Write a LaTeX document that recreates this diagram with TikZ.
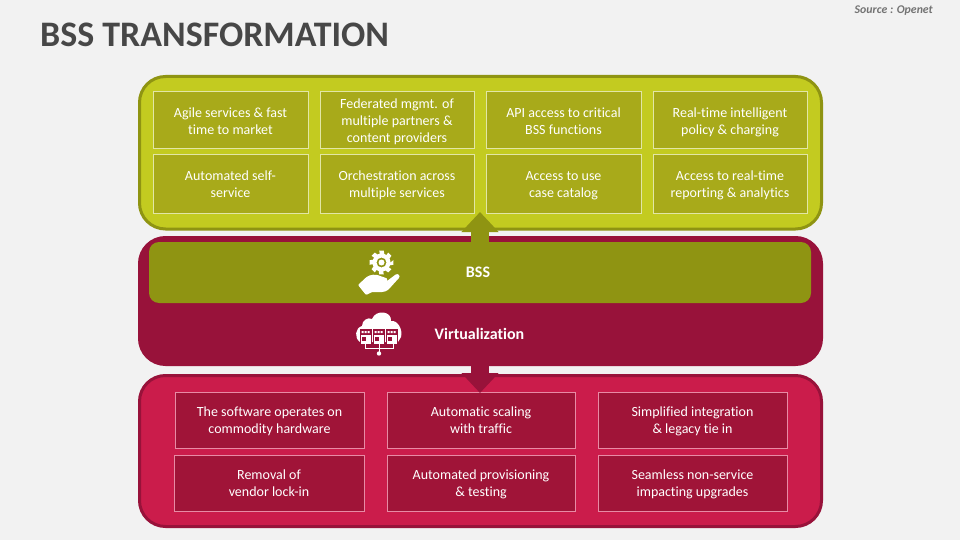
\documentclass[tikz,border=0pt]{standalone}
\usepackage{fontspec}
\setmainfont[Ligatures=NoCommon]{Carlito}
\usetikzlibrary{arrows.meta}
\definecolor{bg}{HTML}{F2F2F2}
\definecolor{olive}{HTML}{8F9412}
\definecolor{lime}{HTML}{C3CB20}
\definecolor{limecell}{HTML}{A8AA1A}
\definecolor{limeline}{HTML}{E2E6A6}
\definecolor{wine}{HTML}{98123A}
\definecolor{crimson}{HTML}{CB1C4B}
\definecolor{winecell}{HTML}{A01438}
\definecolor{wineline}{HTML}{E88BA5}
\tikzset{
 x=1pt,y=-1pt,
 panel/.style={line width=3pt,rounded corners=26pt},
 limecellbox/.style={draw=limeline,fill=limecell,line width=1pt,text=white,align=center,inner sep=0pt,anchor=center,font=\fontsize{14}{17}\selectfont},
 winecellbox/.style={draw=wineline,fill=winecell,line width=1pt,text=white,align=center,inner sep=0pt,anchor=center,font=\fontsize{14}{17}\selectfont},
 fatarrow/.style={line width=18pt,-{Triangle[width=36pt,length=20pt]}},
 barlabel/.style={text=white,font=\bfseries\fontsize{16}{18}\selectfont,inner sep=0pt},
}
\newcommand{\topstrut}{\rule{0pt}{15.3pt}}
\newcommand{\cellbox}[8]{\node[#1,minimum width=#4-#3,minimum height=#6-#5] (#2) at ({(#3+#4)/2},{(#5+#6)/2}) {\topstrut #7\\\strut #8};}
\begin{document}
\begin{tikzpicture}
\useasboundingbox (0,0) rectangle (960,540);
\fill[bg] (0,0) rectangle (960,540);
\node[anchor=west,inner sep=0pt,text=black!72,font=\bfseries\fontsize{35.9}{40}\selectfont] (title) at (40,35) {BSS TRANSFORMATION};
\node[anchor=east,inner sep=0pt,text=black!55,font=\bfseries\itshape\fontsize{11.8}{13}\selectfont] (source) at (933,11) {Source : Openet};
% middle panel
\draw[panel,draw=wine,fill=wine] (139.5,237.5) rectangle (821.5,364.5);
\node[fill=olive,rounded corners=10pt,minimum width=662pt,minimum height=61pt,inner sep=0pt] (bssbar) at (480,272.5) {};
% top panel
\draw[panel,draw=olive,fill=lime] (139.5,76.5) rectangle (821.5,229);
\cellbox{limecellbox}{a1}{153}{308}{92}{149}{Agile services \& fast}{time to market}
\node[limecellbox,minimum width=154pt,minimum height=57pt] (a2) at (397,120.5) {\topstrut Federated mgmt. of\\multiple partners \&\\\strut content providers};
\cellbox{limecellbox}{a3}{486}{641}{92}{149}{API access to critical}{BSS functions}
\cellbox{limecellbox}{a4}{653}{807}{92}{149}{Real-time intelligent}{policy \& charging}
\cellbox{limecellbox}{b1}{153}{308}{155}{213}{Automated self-}{service}
\cellbox{limecellbox}{b2}{320}{474}{155}{213}{Orchestration across}{multiple services}
\cellbox{limecellbox}{b3}{486}{641}{155}{213}{Access to use}{case catalog}
\cellbox{limecellbox}{b4}{653}{807}{155}{213}{Access to real-time}{reporting \& analytics}
% bottom panel
\draw[panel,draw=wine,fill=crimson] (139.5,375.5) rectangle (821.5,526.5);
\cellbox{winecellbox}{c1}{175}{364}{392}{448}{The software operates on}{commodity hardware}
\cellbox{winecellbox}{c2}{387}{575}{392}{448}{Automatic scaling}{with traffic}
\cellbox{winecellbox}{c3}{598}{787}{392}{448}{Simplified integration}{\& legacy tie in}
\cellbox{winecellbox}{d1}{174}{364}{455}{511}{Removal of}{vendor lock-in}
\cellbox{winecellbox}{d2}{387}{575}{455}{511}{Automated provisioning}{\& testing}
\cellbox{winecellbox}{d3}{598}{787}{455}{511}{Seamless non-service}{impacting upgrades}
% arrows
\coordinate (upstart) at (480,255);
\coordinate (uptip) at (480,212);
\coordinate (downstart) at (480,352);
\coordinate (downtip) at (480,393);
\draw[fatarrow,olive] (upstart) -- (uptip);
\draw[fatarrow,wine] (downstart) -- (downtip);
\node[barlabel] (bss) at (478,272) {BSS};
\node[barlabel] (virt) at (479.5,334) {Virtualization};
% gear icon
\begin{scope}[shift={(381.5,262.5)}]
\fill[white,even odd rule] (0:9)
 \foreach \a in {0,45,...,315} { -- (\a-11:12) -- (\a+11:12) -- (\a+18:9) -- (\a+34:9)} -- cycle
 (0,0) circle (5);
\fill[white] (0,0) circle (3);
\end{scope}
% hand icon
\fill[white,rounded corners=1pt] (358,285) -- (366,277.5) .. controls (370,274.5) and (376,274) .. (380,276) -- (386,278) .. controls (388,279) and (387,282) .. (385,282) -- (378,282) -- (385,282.5) -- (395,275) .. controls (398,273) and (401,276) .. (398,279) -- (389,289) .. controls (387,291) and (384,292) .. (381,292) -- (372,292) -- (366,295) -- cycle;
% cloud servers icon
\fill[white] (360,342) .. controls (354,338) and (355,328) .. (362,326) .. controls (362,320) and (368,317) .. (372,319) .. controls (376,309) and (392,311) .. (391,321) .. controls (398,320) and (403,330) .. (401,337) -- (398,342) -- cycle;
\foreach \x in {360.5,373.5,386.5} {
 \fill[wine] (\x-1,329) rectangle (\x+11,344);
 \fill[white] (\x,335) rectangle (\x+10,343.5);
 \fill[white] (\x+1,331) rectangle (\x+3,333) (\x+4,331) rectangle (\x+6,333) (\x+7,331) rectangle (\x+9,333);
 \fill[wine] (\x+1.5,337) rectangle (\x+5.5,340.5);
}
\draw[white,line width=1pt] (365,344) -- (365,348) -- (393,348) -- (393,344) (379,344) -- (379,352);
\fill[white] (379,353.5) circle (2.2);
\end{tikzpicture}
\end{document}
